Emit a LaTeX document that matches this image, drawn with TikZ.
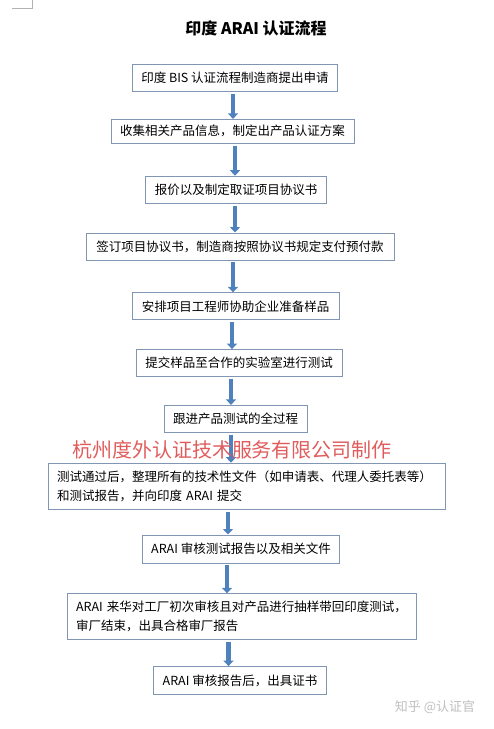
\documentclass[tikz,border=0pt]{standalone}
\usepackage{fontspec}
\newfontfamily\cjk{Noto Sans CJK SC}
\usepackage{tikz}
\usetikzlibrary{positioning,arrows.meta}
\definecolor{boxline}{RGB}{128,150,178}
\definecolor{arrowblue}{RGB}{79,129,189}
\definecolor{markred}{RGB}{224,92,92}

\begin{document}
\begin{tikzpicture}[x=1pt, y=-1pt,
procnode/.style={rectangle, draw=boxline, line width=0.8pt, fill=white, font=\cjk\fontsize{12.5}{19}\selectfont, inner xsep=9pt, inner ysep=2pt, minimum height=27pt},
flowarrow/.style={draw=arrowblue, line width=4.5pt, -{Triangle[width=10pt,length=5.5pt]}, shorten <=2pt},
]
\useasboundingbox (0,0) rectangle (494,729);
% page corner
\draw[black!30, line width=0.6pt] (12,8) -- (32,8) -- (32,0);

%Title
\node[font=\cjk\bfseries\fontsize{16}{18}\selectfont] (title) at (256,28) {印度 ARAI 认证流程};

%Nodes
\node[procnode, minimum width=204pt]                  (b1) at (235,78)               {印度 BIS 认证流程制造商提出申请};
\node[procnode, minimum width=239pt, minimum height=24pt] (b2) [below=27pt of b1, xshift=-2.5pt] {收集相关产品信息，制定出产品认证方案};
\node[procnode, minimum width=174pt]                  (b3) [below=32pt of b2, xshift=3.5pt]  {报价以及制定取证项目协议书};
\node[procnode, minimum width=308pt]                  (b4) [below=29pt of b3, xshift=4pt]    {签订项目协议书，制造商按照协议书规定支付预付款};
\node[procnode, minimum width=207pt]                  (b5) [below=32pt of b4, xshift=-4.5pt] {安排项目工程师协助企业准备样品};
\node[procnode, minimum width=206pt]                  (b6) [below=29pt of b5, xshift=3.5pt]  {提交样品至合作的实验室进行测试};
\node[procnode, minimum width=143pt]                  (b7) [below=28pt of b6, xshift=-3.5pt] {跟进产品测试的全过程};
\node[procnode, text width=379pt, align=left, minimum height=46pt] (b8) [below=30pt of b7, xshift=11pt] {测试通过后，整理所有的技术性文件（如申请表、代理人委托表等）\\和测试报告，并向印度 ARAI 提交};
\node[procnode, minimum width=196pt, minimum height=28pt] (b9) [below=25pt of b8, xshift=-5.5pt] {ARAI 审核测试报告以及相关文件};
\node[procnode, text width=331pt, align=left, minimum height=46pt] (b10) [below=30pt of b9, xshift=0.5pt] {ARAI 来华对工厂初次审核且对产品进行抽样带回印度测试，\\审厂结束，出具合格审厂报告};
\node[procnode, minimum width=172pt, minimum height=28pt] (b11) [below=26pt of b10, xshift=-1.5pt] {ARAI 审核报告后，出具证书};

%Lines
\draw[flowarrow] ([xshift=-2pt]b1.south) -- ([xshift=-2pt]b1.south |- b2.north);
\draw[flowarrow] ([xshift=2.5pt]b2.south) -- ([xshift=2.5pt]b2.south |- b3.north);
\draw[flowarrow] ([xshift=-1pt]b3.south) -- ([xshift=-1pt]b3.south |- b4.north);
\draw[flowarrow] ([xshift=-7pt]b4.south) -- ([xshift=-7pt]b4.south |- b5.north);
\draw[flowarrow] ([xshift=-3.5pt]b5.south) -- ([xshift=-3.5pt]b5.south |- b6.north);
\draw[flowarrow] ([xshift=-8pt]b6.south) -- ([xshift=-8pt]b6.south |- b7.north);
\draw[flowarrow] ([xshift=-4.5pt]b7.south) -- ([xshift=-4.5pt]b7.south |- b8.north);
\draw[flowarrow] ([xshift=-18.5pt]b8.south) -- ([xshift=-18.5pt]b8.south |- b9.north);
\draw[flowarrow] ([xshift=-14pt]b9.south) -- ([xshift=-14pt]b9.south |- b10.north);
\draw[flowarrow] ([xshift=-13pt]b10.south) -- ([xshift=-13pt]b10.south |- b11.north);

%Watermarks
\node[font=\cjk\fontsize{20}{22}\selectfont, text=markred] (mark) at (232,450) {杭州度外认证技术服务有限公司制作};
\node[font=\cjk\fontsize{13}{15}\selectfont, text=black!25] (zhihu) at (435,707) {知乎 @认证官};
\end{tikzpicture}
\end{document}
